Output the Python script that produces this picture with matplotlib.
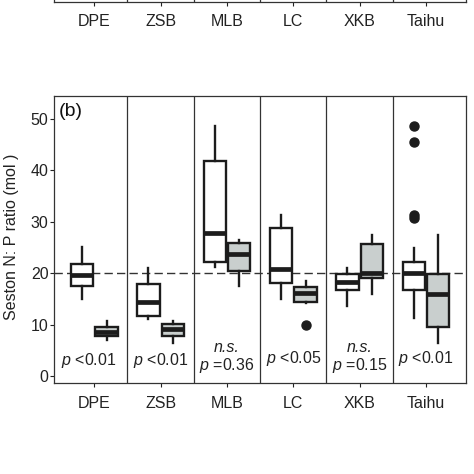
import matplotlib
matplotlib.use("Agg")
import matplotlib.pyplot as plt

plt.rcParams['font.family'] = ['Liberation Sans', 'DejaVu Sans']
plt.rcParams['mathtext.fontset'] = 'custom'
plt.rcParams['mathtext.it'] = 'Liberation Sans:italic'
plt.rcParams['mathtext.rm'] = 'Liberation Sans'

groups = ["DPE", "ZSB", "MLB", "LC", "XKB", "Taihu"]

# white boxes (first series)
a_whislo = [14.9, 11.0, 21.3, 14.9, 13.6, 11.2]
a_q1 = [17.5, 11.6, 22.1, 18.1, 16.7, 16.7]
a_med = [19.7, 14.4, 27.8, 20.8, 18.3, 20.0]
a_q3 = [21.8, 17.9, 41.9, 28.9, 19.9, 22.2]
a_whishi = [25.1, 21.0, 48.6, 31.4, 21.0, 24.9]
a_fliers = [[], [], [], [], [], [48.7, 45.5, 31.4, 30.7]]

# grey boxes (second series)
b_whislo = [7.1, 6.4, 17.5, 14.2, 16.0, 6.4]
b_q1 = [7.7, 7.7, 20.5, 14.5, 19.0, 9.5]
b_med = [8.6, 9.1, 23.8, 16.2, 20.1, 16.0]
b_q3 = [9.5, 10.1, 25.8, 17.3, 25.6, 19.9]
b_whishi = [10.8, 10.8, 26.4, 18.4, 27.5, 27.5]
b_fliers = [[], [], [], [9.9], [], []]

p_values = ["<0.01", "<0.01", "=0.36", "<0.05", "=0.15", "<0.01"]
not_sig = [False, False, True, False, True, False]
ref_line = 20

dark = '#1c1c1c'
grey_fill = '#c9cfce'

fig = plt.figure(figsize=(4.74, 4.74), dpi=100)
W = H = 474.0
x0, x1 = 54 / W, 466 / W
ax = fig.add_axes([x0, 1 - 383.3 / H, x1 - x0, (383.3 - 96) / H])
axa = fig.add_axes([x0, 1 - 1.5 / H, x1 - x0, 0.3])

xlim = (-0.608, 5.603)
off = 0.184
bw = 0.34


def stats(lo, q1, med, q3, hi, fl):
    return [dict(whislo=lo[i], q1=q1[i], med=med[i], q3=q3[i], whishi=hi[i], fliers=fl[i])
            for i in range(len(lo))]


common = dict(widths=bw, patch_artist=True, showcaps=False,
              whiskerprops=dict(color=dark, lw=1.7),
              medianprops=dict(color=dark, lw=3.4, solid_capstyle='butt'),
              flierprops=dict(marker='o', markerfacecolor=dark, markeredgecolor=dark, markersize=6.5))

pos = list(range(len(groups)))
ax.bxp(stats(a_whislo, a_q1, a_med, a_q3, a_whishi, a_fliers),
       positions=[p - off for p in pos],
       boxprops=dict(facecolor='white', edgecolor=dark, lw=1.7), **common)
ax.bxp(stats(b_whislo, b_q1, b_med, b_q3, b_whishi, b_fliers),
       positions=[p + off for p in pos],
       boxprops=dict(facecolor=grey_fill, edgecolor=dark, lw=1.7), **common)

ax.axhline(ref_line, color='#333333', lw=1.0, dashes=(6, 3), zorder=0.5)
for a in (ax, axa):
    for k in range(len(groups) - 1):
        a.axvline(k + 0.5, color='#333333', lw=0.9, zorder=0.4)
    a.set_xlim(*xlim)
    a.set_xticks(pos)
    a.set_xticklabels(groups)
    a.tick_params(axis='x', length=3, width=0.8, pad=6, labelsize=11.5, colors='#222222')
    for s in a.spines.values():
        s.set_linewidth(0.9)
        s.set_color('#333333')

axa.set_ylim(0, 1)
axa.set_yticks([])

ax.set_ylim(-1.42, 54.5)
ax.set_yticks([0, 10, 20, 30, 40, 50])
ax.tick_params(axis='y', length=3, width=0.8, pad=1, labelsize=11.5, colors='#222222')

text_dx = [-0.08, 0, 0, 0, 0, 0]
for i, (pv, ns) in enumerate(zip(p_values, not_sig)):
    if ns:
        ax.text(i + text_dx[i], 5.6, 'n.s.', ha='center', va='center', style='italic',
                fontsize=11.5, color='#222222')
        ax.text(i + text_dx[i], 2.0, r'$\mathit{p}$ ' + pv, ha='center', va='center',
                fontsize=11.5, color='#222222')
    else:
        y = 3.0 if i < 2 else 3.4
        ax.text(i + text_dx[i], y, r'$\mathit{p}$ ' + pv, ha='center', va='center',
                fontsize=11.5, color='#222222')

ax.text(0.011, 0.975, '(b)', transform=ax.transAxes, ha='left', va='top',
        fontsize=14, color='#111111')

fig.text(12 / W, 1 - 237 / H, 'Seston N: P ratio (mol )', rotation=90,
         ha='center', va='center', fontsize=11.5, color='#222222')

fig.savefig('out.png', dpi=100)
